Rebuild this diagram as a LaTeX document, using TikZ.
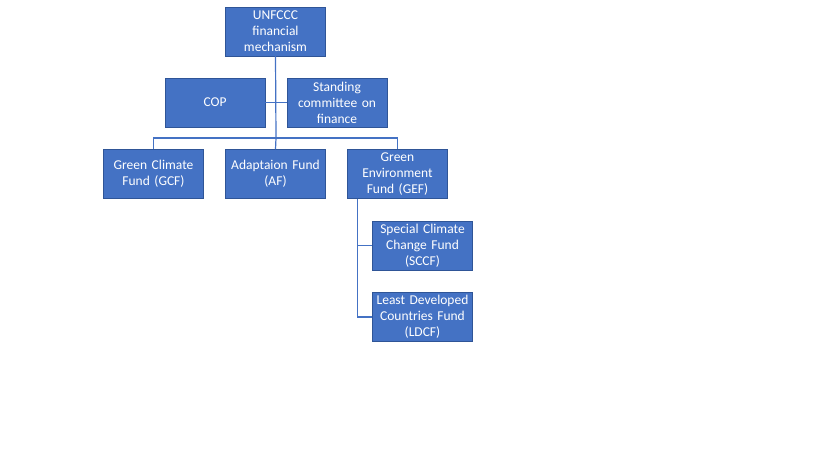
\documentclass[tikz,border=0pt]{standalone}
\usepackage{fontspec}
\setmainfont{Carlito}
\definecolor{box}{HTML}{4472C4}
\definecolor{edge}{HTML}{2F5597}
\begin{document}
\begin{tikzpicture}[x=1pt,y=-1pt,
  b/.style={draw=edge,fill=box,text=white,minimum width=100pt,minimum height=49pt,inner sep=1pt,
    align=center,text width=98pt,font=\fontsize{13.5}{16}\selectfont},
  l/.style={draw=box,line width=1.2pt}]
\useasboundingbox (0,0) rectangle (819,460);
\node[b] (u) at (275.5,31.5) {UNFCCC\\financial\\mechanism};
\node[b] (cop) at (215,102.5) {COP};
\node[b] (scf) at (337,102.5) {Standing\\committee on\\finance};
\node[b] (gcf) at (153.5,174) {Green Climate\\Fund (GCF)};
\node[b] (af) at (275.5,174) {Adaptaion Fund\\(AF)};
\node[b] (gef) at (397.5,174) {Green\\Environment\\Fund (GEF)};
\node[b] (sccf) at (422.5,245.5) {Special Climate\\Change Fund\\(SCCF)};
\node[b] (ldcf) at (422.5,317) {Least Developed\\Countries Fund\\(LDCF)};
\coordinate (j) at (276,138);
\coordinate (m) at (276,102.5);
\draw[l] (u.south) -- (j);
\draw[l] (cop.east) -- (m) -- (scf.west);
\draw[l] (gcf.north) |- (j) -| (gef.north);
\draw[l] (j) -- (af.north);
\draw[l] ([xshift=-40pt]gef.south) |- (sccf.west);
\draw[l] ([xshift=-40pt]gef.south) |- (ldcf.west);
\end{tikzpicture}
\end{document}
